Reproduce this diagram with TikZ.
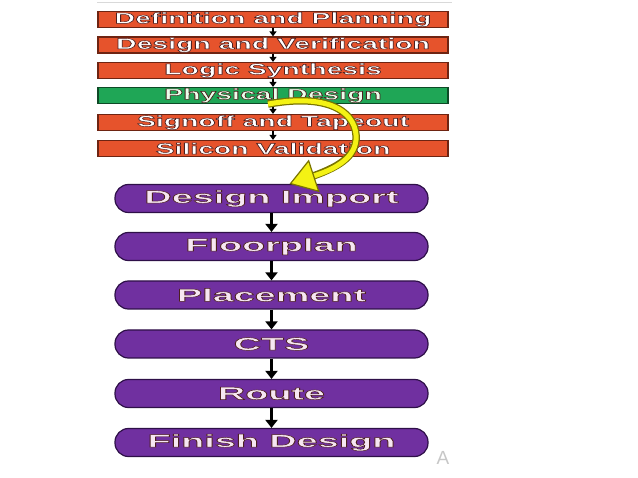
\documentclass[tikz,border=0pt]{standalone}
\usepackage{fontspec}
\setmainfont{Liberation Sans}
\usepackage{graphicx}
\usetikzlibrary{arrows.meta}
\definecolor{stepred}{HTML}{E6532C}
\definecolor{stepredline}{HTML}{6E2412}
\definecolor{stepgreen}{HTML}{1FA656}
\definecolor{stepgreenline}{HTML}{0E4A26}
\definecolor{pillpurple}{HTML}{7030A0}
\definecolor{pillline}{HTML}{2E1048}
\definecolor{pilltext}{HTML}{F6E6F2}
\definecolor{arrowyellow}{HTML}{F4F214}
\definecolor{arrowolive}{HTML}{7A7400}
\newcommand{\outlinetext}[1]{\special{pdf:literal direct 2 Tr 0.45 w 0.3 0.12 0.12 RG}#1\special{pdf:literal direct 0 Tr}}
\newcommand{\topstretch}[1]{\scalebox{1.83}[1]{\outlinetext{#1}}}
\newcommand{\pillstretch}[1]{\scalebox{2.1}[1]{\outlinetext{#1}}}
\begin{document}
\begin{tikzpicture}[x=1pt,y=-1pt,
 topbox/.style={draw=stepredline, line width=1.2pt, fill=stepred, minimum width=350pt, minimum height=16pt, inner sep=0pt, text=white, font=\fontsize{15.5}{16}\selectfont\bfseries},
 greenbox/.style={topbox, draw=stepgreenline, fill=stepgreen, text=green!8!white},
 pill/.style={draw=pillline, line width=1.2pt, fill=pillpurple, rounded corners=13.5pt, minimum width=313pt, minimum height=28pt, inner sep=0pt, text=pilltext, font=\fontsize{18}{18}\selectfont\bfseries},
 smallarrow/.style={-{Triangle[length=5pt,width=7pt]}, line width=1.6pt, black},
 bigarrow/.style={-{Triangle[length=8pt,width=12pt]}, line width=3pt, black},
]
\useasboundingbox (0,0) rectangle (638,478);
\draw[black!15, line width=1pt] (97,2.5) -- (452,2.5);

\node[topbox] (s1) at (273,19.5) {\topstretch{Definition and Planning}};
\node[topbox] (s2) at (273,45) {\topstretch{Design and Verification}};
\node[topbox] (s3) at (273,70.5) {\topstretch{Logic Synthesis}};
\node[greenbox] (s4) at (273,95.5) {\topstretch{Physical Design}};
\node[topbox] (s5) at (273,122.5) {\topstretch{Signoff and Tapeout}};
\node[topbox] (s6) at (273,148.5) {\topstretch{Silicon Validation}};

\draw[smallarrow] (s1.south) -- (s2.north);
\draw[smallarrow] (s2.south) -- (s3.north);
\draw[smallarrow] (s3.south) -- (s4.north);
\draw[smallarrow] (s4.south) -- (s5.north);
\draw[smallarrow] (s5.south) -- (s6.north);

\node[pill] (p1) at (271.5,198.5) {\pillstretch{Design Import}};
\node[pill] (p2) at (271.5,246.5) {\pillstretch{Floorplan}};
\node[pill] (p3) at (271.5,295) {\pillstretch{Placement}};
\node[pill] (p4) at (271.5,344) {\pillstretch{CTS}};
\node[pill] (p5) at (271.5,393.5) {\pillstretch{Route}};
\node[pill] (p6) at (271.5,442.5) {\pillstretch{Finish Design}};

\draw[bigarrow] (p1.south) -- (p2.north);
\draw[bigarrow] (p2.south) -- (p3.north);
\draw[bigarrow] (p3.south) -- (p4.north);
\draw[bigarrow] (p4.south) -- (p5.north);
\draw[bigarrow] (p5.south) -- (p6.north);

\draw[line width=7.5pt, arrowolive, shorten >=14pt] ([xshift=-5pt]s4.south) .. controls (333,92) and (358,115) .. (356,140) .. controls (354,160) and (332,170) .. ([xshift=18pt]p1.north);
\draw[line width=5pt, arrowyellow, -{Triangle[length=26pt,width=34pt,line width=1.2pt,fill=arrowyellow,color=arrowolive]}] ([xshift=-5pt]s4.south) .. controls (333,92) and (358,115) .. (356,140) .. controls (354,160) and (332,170) .. ([xshift=18pt]p1.north);

\node[text=black!22, font=\fontsize{19}{19}\selectfont] (wm) at (443,458) {A};
\end{tikzpicture}
\end{document}
